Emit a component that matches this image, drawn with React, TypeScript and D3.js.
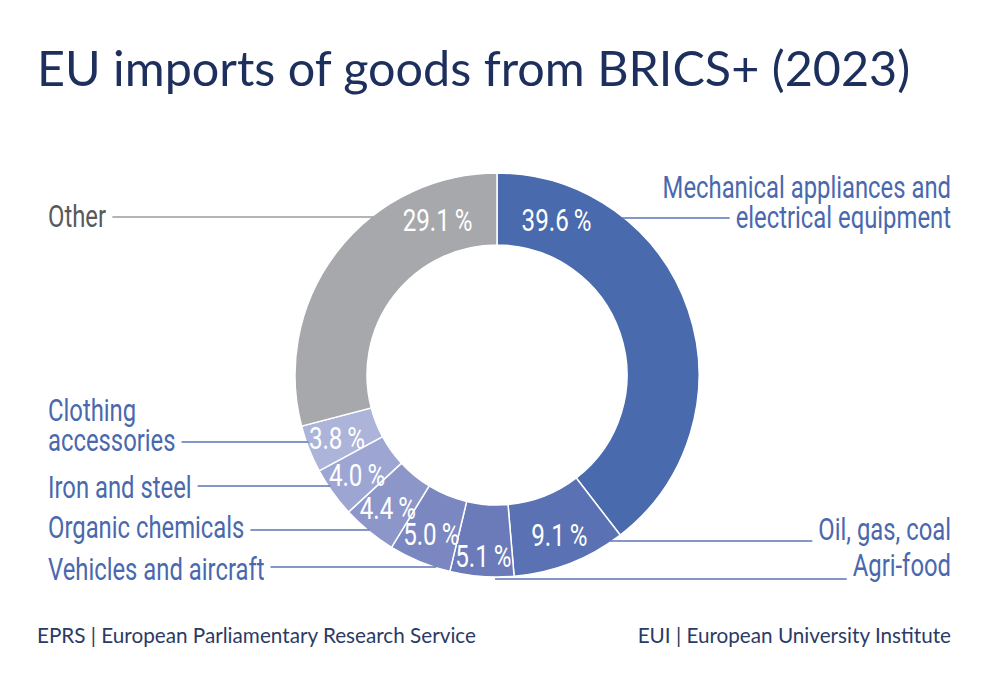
import React, { useEffect, useRef } from 'react';
import * as d3 from 'd3';

// EU imports of goods from BRICS+ 2023, share in %
const categories = [
  'Mechanical appliances and electrical equipment',
  'Oil, gas, coal',
  'Agri-food',
  'Vehicles and aircraft',
  'Organic chemicals',
  'Iron and steel',
  'Clothing accessories',
  'Other',
];
const shares = [39.6, 9.1, 5.1, 5.0, 4.4, 4.0, 3.8, 29.1];
const sliceColors = ['#4a6aae', '#5a72b3', '#6b7bb9', '#7b87c0', '#8c96c9', '#9da6d2', '#adb4da', '#a7a8ab'];

// label text as it is broken in the reference
const labelLines = [
  ['Mechanical appliances and', 'electrical equipment'],
  ['Oil, gas, coal'],
  ['Agri-food'],
  ['Vehicles and aircraft'],
  ['Organic chemicals'],
  ['Iron and steel'],
  ['Clothing', 'accessories'],
  ['Other'],
];

// hand placed label layout (side, leader line y, first baseline)
const labelLayout = [
  { side: 'right', lineY: 218, baseline: 198 },
  { side: 'right', lineY: 541, baseline: 540 },
  { side: 'right', lineY: 579, baseline: 576 },
  { side: 'left', lineY: 567, baseline: 580 },
  { side: 'left', lineY: 530, baseline: 538 },
  { side: 'left', lineY: 486, baseline: 498 },
  { side: 'left', lineY: 442, baseline: 421 },
  { side: 'left', lineY: 217, baseline: 227 },
];

const W = 996;
const H = 700;
const CX = 497;
const CY = 375;
const R_OUT = 202;
const R_IN = 130;
const LINE_H = 30;
const LEFT_X = 48;
const RIGHT_X = 951;
const COND = 'Roboto, sans-serif';
const SX_LABEL = 0.745; // squeeze Roboto to look like the condensed face of the original
const SX_PCT = 0.78;
const BLUE_TEXT = '#4a68ad';

type Sel = d3.Selection<SVGSVGElement | SVGGElement, unknown, null, undefined>;

// condensed text: draw at origin, then translate + scale horizontally
const condText = (parent: Sel, x: number, y: number, str: string, anchor: string, size: number, fill: string, sx: number) => {
  return parent.append('text')
    .attr('transform', `translate(${x},${y}) scale(${sx},1)`)
    .attr('text-anchor', anchor)
    .attr('fill', fill)
    .style('font-family', COND)
    .style('font-size', `${size}px`)
    .text(str);
};

const App: React.FC = () => {
  const svgRef = useRef<SVGSVGElement>(null);

  useEffect(() => {
    if (!svgRef.current) return;
    const svg = d3.select(svgRef.current) as unknown as Sel;
    svg.selectAll('*').remove();

    svg.append('rect').attr('width', W).attr('height', H).attr('fill', '#ffffff');

    // Title
    svg.append('text')
      .attr('x', 37)
      .attr('y', 86)
      .attr('fill', '#1d2f5c')
      .style('font-family', 'Lato, sans-serif')
      .style('font-size', '48.5px')
      .text('EU imports of goods from BRICS+ (2023)');

    const data = shares.map((v, i) => ({ v, i }));
    const pie = d3.pie<{ v: number; i: number }>()
      .value(d => d.v)
      .sort(null);
    const arcs = pie(data);

    const arc = d3.arc<d3.PieArcDatum<{ v: number; i: number }>>()
      .innerRadius(R_IN)
      .outerRadius(R_OUT);

    const g = svg.append('g').attr('transform', `translate(${CX},${CY})`) as unknown as Sel;

    g.selectAll('path')
      .data(arcs)
      .enter()
      .append('path')
      .attr('d', arc)
      .attr('fill', d => sliceColors[d.data.i])
      .attr('stroke', '#ffffff')
      .attr('stroke-width', 1.5);

    // Percentage labels inside the ring
    const deg = Math.PI / 180;
    arcs.forEach(a => {
      let ang: number;
      let r: number;
      if (a.data.v > 20) {
        // big slices: label near the 12 o'clock boundary
        ang = a.startAngle === 0 ? 21 * deg : a.endAngle - 21 * deg;
        r = 166;
      } else {
        ang = (a.startAngle + a.endAngle) / 2;
        r = a.data.i === 2 ? 182 : 172;
      }
      condText(g, Math.sin(ang) * r, -Math.cos(ang) * r + 11, `${a.data.v.toFixed(1)}\u2009%`, 'middle', 31, '#ffffff', SX_PCT);
    });

    // Category labels with leader lines
    labelLayout.forEach((lay, i) => {
      const isOther = i === categories.length - 1;
      const color = isOther ? '#58595b' : BLUE_TEXT;
      const lineColor = isOther ? '#9a9b9e' : '#5b76b6';
      const lines = labelLines[i];
      const right = lay.side === 'right';

      const texts = lines.map((ln, k) =>
        condText(svg, right ? RIGHT_X : LEFT_X, lay.baseline + k * LINE_H, ln, right ? 'end' : 'start', 32, color, SX_LABEL)
      );

      // the leader sits beside the line of text closest to its y
      let nearest = 0;
      lines.forEach((_, k) => {
        const b = lay.baseline + k * LINE_H;
        if (Math.abs(b - 10 - lay.lineY) < Math.abs(lay.baseline + nearest * LINE_H - 10 - lay.lineY)) nearest = k;
      });
      const w = (texts[nearest].node() as SVGTextElement).getBBox().width * SX_LABEL;
      const dy = lay.lineY - CY;
      const dx = Math.sqrt(Math.max(0, R_OUT * R_OUT - dy * dy));
      const x1 = right ? RIGHT_X - w - 6 : LEFT_X + w + 6;
      const x2 = right ? CX + dx - 2 : CX - dx + 2;

      svg.append('line')
        .attr('x1', x1)
        .attr('x2', x2)
        .attr('y1', lay.lineY)
        .attr('y2', lay.lineY)
        .attr('stroke', lineColor)
        .attr('stroke-width', 1.5);
    });

    // Footer
    svg.append('text')
      .attr('x', 37)
      .attr('y', 643)
      .attr('fill', '#2b3a66')
      .style('font-family', 'Lato, sans-serif')
      .style('font-size', '20.7px')
      .text('EPRS | European Parliamentary Research Service');

    svg.append('text')
      .attr('x', 951)
      .attr('y', 643)
      .attr('text-anchor', 'end')
      .attr('fill', '#2b3a66')
      .style('font-family', 'Lato, sans-serif')
      .style('font-size', '20.7px')
      .text('EUI | European University Institute');
  }, []);

  return (
    <svg
      ref={svgRef}
      width={W}
      height={H}
      style={{ position: 'absolute', left: 0, top: 0, display: 'block' }}
    />
  );
};

export default App;
